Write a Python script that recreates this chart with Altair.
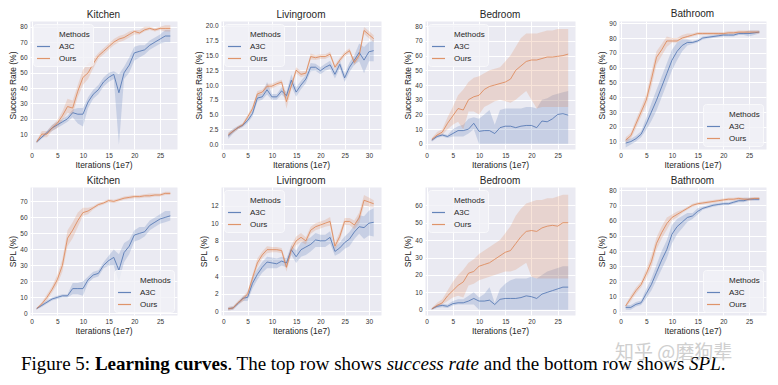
import altair as alt
import pandas as pd

X27 = list(range(1, 28))
X31 = list(range(1, 32))

# ---------------- Success rate (top row) ----------------
kit_sr_a3c = [5, 8, 11, 14, 16, 18, 20, 24, 23, 23, 31, 36, 39, 44, 47, 49, 37, 50, 55, 63, 64, 65, 68, 70, 72, 74, 74]
kit_sr_a3c_lo = [4, 7, 10, 12, 14, 16, 18, 21, 17, 15, 27, 33, 36, 41, 44, 46, 3, 46, 50, 58, 60, 62, 65, 67, 69, 70, 70]
kit_sr_a3c_hi = [6, 9, 12, 16, 18, 20, 22, 26, 27, 27, 34, 39, 42, 47, 50, 51, 49, 54, 60, 67, 68, 68, 71, 73, 75, 78, 78]
kit_sr_ours = [5, 10, 10, 14, 17, 22, 28, 27, 38, 47, 50, 56, 61, 64, 67, 70, 72, 73, 75, 77, 76, 78, 79, 78, 79, 79, 79]
kit_sr_ours_lo = [4, 8, 8, 12, 14, 19, 24, 23, 34, 42, 46, 53, 59, 62, 65, 68, 70, 71, 73, 75, 75, 77, 78, 77, 78, 77, 77]
kit_sr_ours_hi = [6, 12, 12, 16, 19, 25, 33, 32, 42, 52, 56, 59, 63, 66, 69, 72, 74, 75, 77, 78, 78, 80, 80, 79, 80, 81, 81]

liv_sr_a3c = [1.4, 2.2, 2.8, 3.2, 4.0, 5.2, 7.8, 8.0, 9.2, 8.0, 8.0, 9.0, 8.2, 10.8, 8.8, 10.0, 11.0, 13.0, 13.0, 12.4, 13.0, 13.4, 11.8, 13.5, 11.2, 13.0, 14.2, 15.5, 14.2, 15.6, 15.8]
liv_sr_a3c_lo = [0.9, 1.8, 2.5, 2.9, 3.6, 4.7, 7.2, 7.5, 8.4, 7.5, 7.5, 8.4, 7.6, 9.8, 8.0, 9.3, 10.3, 12.3, 12.4, 11.8, 12.4, 12.7, 11.1, 12.8, 10.5, 12.2, 13.4, 14.0, 12.0, 14.0, 14.0]
liv_sr_a3c_hi = [1.9, 2.6, 3.1, 3.5, 4.4, 5.7, 8.4, 8.5, 10.5, 8.5, 8.5, 9.6, 8.8, 11.8, 9.6, 10.7, 11.7, 13.7, 13.6, 13.0, 13.6, 14.1, 12.5, 14.2, 11.9, 13.8, 15.0, 17.0, 16.4, 17.2, 17.6]
liv_sr_ours = [1.6, 2.2, 2.8, 3.3, 4.6, 6.0, 8.5, 8.8, 9.8, 9.8, 10.2, 10.5, 7.2, 9.8, 12.5, 11.8, 12.0, 14.8, 14.6, 14.8, 14.8, 15.2, 13.0, 14.2, 15.2, 15.8, 13.8, 15.0, 19.2, 18.5, 17.8]
liv_sr_ours_lo = [1.2, 1.9, 2.5, 3.0, 4.2, 5.6, 8.0, 8.4, 9.4, 9.4, 9.8, 10.1, 6.0, 9.3, 12.0, 11.3, 11.6, 14.3, 14.2, 14.4, 14.4, 14.8, 12.6, 13.8, 14.8, 15.4, 13.3, 14.5, 18.6, 17.9, 17.2]
liv_sr_ours_hi = [2.0, 2.5, 3.1, 3.6, 5.0, 6.4, 9.0, 9.2, 10.2, 10.2, 10.6, 10.9, 8.4, 10.3, 13.0, 12.3, 12.4, 15.3, 15.0, 15.2, 15.2, 15.6, 13.4, 14.6, 15.6, 16.2, 14.3, 15.5, 19.8, 19.1, 18.4]

bed_sr_a3c = [2.5, 5, 6, 5, 7, 9, 9, 10, 14, 8.5, 9, 9, 7, 11, 12, 12, 11, 12, 12.5, 12.5, 11, 15.5, 15, 17, 20, 20.5, 19.5]
bed_sr_a3c_lo = [1.5, 4, 5, 4, 5, 5, 5, 7, 10, 0, 0, 0, 0, 0, 0, 0, 0, 0, 0, 0, 0, 0, 0, 0, 0, 0, 0]
bed_sr_a3c_hi = [3.5, 6, 7, 6, 10, 12, 13, 17, 18, 17, 20, 23, 13, 23, 24, 24, 24, 24, 25, 25, 24, 30, 31, 33, 34, 35, 36]
bed_sr_ours = [3, 6, 8, 14, 19, 24, 23, 30, 32, 33, 37, 39, 40, 41, 42, 44, 50, 53, 56, 57, 57, 58, 59, 59, 59.5, 60, 61]
bed_sr_ours_lo = [2, 5, 6, 10, 13, 15, 10, 22, 22, 20, 25, 27, 29, 30, 29, 28, 30, 33, 36, 30, 24, 25, 25, 25, 25, 25, 25]
bed_sr_ours_hi = [4, 8, 10, 18, 25, 33, 37, 42, 45, 46, 48, 50, 51, 52, 56, 60, 66, 72, 75, 75, 75, 76, 77, 77, 78, 78, 78]

bat_sr_a3c = [9, 10, 12, 15, 22, 30, 38, 47, 56, 65, 71, 75, 77, 77, 78, 80, 80.5, 81, 81.5, 82, 82, 82, 83, 83, 83, 83.5, 84]
bat_sr_a3c_lo = [6, 8, 10, 13, 18, 24, 31, 40, 49, 58, 65, 71, 75, 76, 77, 79, 79.5, 80, 80.5, 81, 81, 81, 82, 82, 81, 82, 83]
bat_sr_a3c_hi = [12, 12, 14, 17, 26, 36, 45, 54, 63, 72, 77, 79, 79, 78, 79, 81, 81.5, 82, 82.5, 83, 83, 83, 84, 84, 85, 85, 85]
bat_sr_ours = [11, 14, 22, 30, 38, 52, 67, 72, 78, 78, 78, 80, 81, 82, 83, 83, 83, 83, 83, 83, 83.5, 83.5, 84, 84, 84, 84, 84]
bat_sr_ours_lo = [9, 12, 19, 27, 34, 47, 62, 68, 74, 77, 77, 79, 80, 81, 82, 82, 82, 82, 82, 82, 82.5, 82.5, 83, 83, 83, 83, 83]
bat_sr_ours_hi = [13, 16, 25, 33, 42, 57, 71, 76, 81, 80, 80, 82, 83, 83, 84, 84, 84, 84, 84, 84, 84.5, 84.5, 85, 85, 85, 85, 85]

# ---------------- SPL (bottom row) ----------------
kit_spl_a3c = [3, 5, 7, 9, 10, 11, 11, 15.5, 15.5, 15.5, 21, 24, 25, 30, 33, 35, 27, 38, 42, 49, 50, 51, 55, 57, 59, 60, 61]
kit_spl_a3c_lo = [2.5, 4, 6, 8, 9, 10, 10, 12, 12, 11, 19, 22, 23, 28, 30, 30, 20, 32, 37, 45, 46, 48, 52, 54, 56, 57, 58]
kit_spl_a3c_hi = [3.5, 6, 8, 10, 11, 12, 12, 19, 19, 20, 23, 26, 27, 32, 36, 40, 37, 44, 46, 52, 54, 54, 58, 60, 62, 64, 64]
kit_spl_ours = [3, 6, 10, 15, 21, 30, 47, 52, 58, 63, 64, 66, 68, 69, 70.5, 70, 71, 72, 72.5, 73, 73, 73.5, 73.5, 74, 74, 75, 75]
kit_spl_ours_lo = [2.5, 5, 8, 13, 18, 26, 42, 47, 54, 61, 62, 65, 67, 68, 69.5, 69, 70, 71, 71.5, 72, 72, 72.5, 72.5, 73, 73, 74, 74]
kit_spl_ours_hi = [3.5, 7, 12, 17, 24, 34, 52, 57, 63, 66, 66, 67, 69, 70, 71.5, 71, 72, 73, 73.5, 74, 74, 74.5, 75, 75, 75, 76, 76]

liv_spl_a3c = [0.3, 0.4, 0.9, 1.5, 1.6, 3.2, 4.2, 5.0, 5.6, 5.5, 5.4, 5.7, 5.5, 7.0, 6.2, 7.0, 7.3, 7.6, 8.1, 8.0, 8.0, 8.4, 6.8, 7.2, 7.8, 8.2, 9.0, 9.6, 9.5, 10.0, 10.1]
liv_spl_a3c_lo = [0.1, 0.2, 0.7, 1.2, 1.2, 2.6, 3.6, 4.4, 4.9, 4.9, 4.9, 5.2, 5.0, 6.4, 5.5, 6.2, 6.4, 6.8, 7.3, 7.3, 7.3, 7.7, 6.3, 6.6, 7.1, 7.4, 8.2, 8.8, 8.2, 8.6, 8.5]
liv_spl_a3c_hi = [0.5, 0.6, 1.1, 1.7, 2.0, 3.8, 4.8, 5.6, 6.2, 6.1, 6.0, 6.2, 6.0, 7.5, 6.9, 7.8, 8.1, 8.4, 8.9, 8.7, 8.7, 9.1, 7.3, 7.8, 8.5, 9.0, 9.8, 10.9, 10.8, 11.4, 11.7]
liv_spl_ours = [0.3, 0.4, 1.0, 1.4, 2.0, 3.8, 5.5, 6.4, 7.0, 7.0, 7.0, 6.9, 5.0, 7.0, 8.0, 8.4, 8.0, 9.2, 9.6, 9.8, 10.0, 10.2, 7.4, 8.5, 10.2, 10.2, 9.8, 10.6, 12.6, 12.4, 12.2]
liv_spl_ours_lo = [0.1, 0.2, 0.8, 1.1, 1.7, 3.4, 5.0, 6.0, 6.6, 6.7, 6.7, 6.6, 4.5, 6.5, 7.5, 7.9, 7.6, 8.8, 9.2, 9.4, 9.6, 9.7, 7.0, 8.0, 9.8, 9.8, 9.3, 10.0, 12.0, 11.9, 11.8]
liv_spl_ours_hi = [0.5, 0.6, 1.2, 1.7, 2.3, 4.2, 6.0, 6.8, 7.4, 7.3, 7.3, 7.2, 5.5, 7.5, 8.5, 8.9, 8.4, 9.6, 10.0, 10.2, 10.4, 10.7, 7.8, 9.0, 10.6, 10.6, 10.3, 11.2, 13.2, 12.9, 12.6]

bed_spl_a3c = [0.5, 2, 2.5, 2, 3.5, 4, 4, 5, 6.5, 5, 5, 5.5, 3, 6, 6.5, 6.5, 6.5, 7, 8, 7.5, 6.5, 9, 10, 11, 12, 13, 13]
bed_spl_a3c_lo = [0, 1, 1.5, 1, 2.5, 3, 3, 3, 3, 0, 0, 0, 0, 0, 0, 0, 0, 0, 0, 0, 0, 0, 0, 0, 0, 0, 0]
bed_spl_a3c_hi = [1, 3, 3.5, 3, 5, 6, 6, 8, 10, 7, 9, 13, 4, 12, 15, 17, 18, 18, 18, 19, 18, 20, 22, 23, 24, 25, 25]
bed_spl_ours = [0.5, 2.5, 4, 8, 11, 14, 16, 21, 22, 25, 26, 27, 29, 31, 33, 34, 38, 42, 45, 45.5, 45, 47, 48, 48.5, 48, 50, 50]
bed_spl_ours_lo = [0, 1.5, 3, 5, 7, 8, 7, 14, 15, 17, 18, 19, 20, 21, 22, 22, 23, 25, 27, 19, 18, 18, 18, 18, 18, 18, 18]
bed_spl_ours_hi = [1, 4, 6, 11, 16, 20, 23, 27, 29, 32, 34, 36, 38, 40, 44, 48, 54, 58, 61, 62, 63, 63, 64, 64, 65, 66, 66]

bat_spl_a3c = [3, 3, 5, 6, 12, 18, 26, 34, 41, 51, 56, 59, 62, 63, 66, 68, 69, 70, 70.5, 71, 71, 72, 73, 73, 74, 74, 74]
bat_spl_a3c_lo = [1.5, 1.5, 3.5, 4.5, 9, 14, 21, 28, 35, 45, 51, 55, 59, 61, 64, 67, 68, 69, 69.5, 70, 70, 71, 72, 72, 73, 73, 73]
bat_spl_a3c_hi = [4.5, 4.5, 6.5, 7.5, 15, 22, 31, 40, 47, 57, 61, 63, 65, 65, 68, 69, 70, 71, 71.5, 72, 72, 73, 74, 75, 75, 75, 75]
bat_spl_ours = [4, 9, 14, 18, 25, 33, 45, 52, 58, 62, 64, 66, 68, 70, 71, 71.5, 72, 72.5, 73, 73.5, 74, 74, 74.5, 74, 74, 74.5, 74.5]
bat_spl_ours_lo = [3, 7, 12, 16, 22, 29, 41, 48, 54, 60, 62, 65, 67, 69, 70, 70.5, 71, 71.5, 72, 72.5, 73, 73, 73.5, 73, 73, 73.5, 73.5]
bat_spl_ours_hi = [5, 11, 16, 20, 28, 37, 49, 56, 62, 64, 66, 67, 69, 71, 72, 72.5, 73, 73.5, 74, 74.5, 75, 75, 75.5, 75, 75, 75.5, 75.5]

# legend: seaborn-style "Methods" header row followed by the two methods
LEGEND_ENTRIES = ["Methods", "A3C", "Ours"]
LEGEND_COLORS = ["rgba(0,0,0,0)", "#4C72B0", "#DD8452"]
METHODS = ["A3C", "Ours"]
FONT = "Liberation Sans"
SERIF = "Liberation Serif"

CAPTION = [
    ("Figure 5:", "normal", "normal"),
    ("Learning curves", "bold", "normal"),
    (". The top row shows", "normal", "normal"),
    ("success rate", "normal", "italic"),
    ("and the bottom row shows", "normal", "normal"),
    ("SPL", "normal", "italic"),
    (".", "normal", "normal"),
]
CAPTION_OFFSETS = [0, 73.9, 206.4, 365.7, 462.8, 668.1, 699.8]
WATERMARK = "知乎 @磨狗辈"

PH = 128


def panel(title, ylab, x, series, xdom, xticks, ydom, yticks, yfmt, orient, width):
    rows = []
    for name, (m, lo, hi) in zip(METHODS, series):
        for i, xv in enumerate(x):
            rows.append({"x": xv, "m": m[i], "lo": lo[i], "hi": hi[i], "method": name})
    df = pd.DataFrame(rows)
    xs = alt.Scale(domain=xdom, nice=False, zero=False)
    ys = alt.Scale(domain=ydom, nice=False, zero=False)
    cs = alt.Scale(domain=LEGEND_ENTRIES, range=LEGEND_COLORS)
    xax = alt.Axis(values=xticks, title="Iterations (1e7)", format="d")
    yax = alt.Axis(values=yticks, title=ylab, format=yfmt)
    legend = alt.Legend(
        title=None,
        orient=orient,
        offset=3,
        padding=3,
        fillColor="rgba(241,241,246,0.8)",
        strokeColor="rgba(250,250,252,0.9)",
        cornerRadius=3,
        symbolType="stroke",
        symbolSize=169,
        symbolStrokeWidth=1.2,
        symbolOpacity=0.85,
        labelFont=FONT,
        labelFontSize=8,
        labelColor="#262626",
        labelOffset=8,
        rowPadding=0,
    )
    base = alt.Chart(df)
    band = base.mark_area(opacity=0.22, clip=True).encode(
        x=alt.X("x:Q", scale=xs, axis=xax),
        y=alt.Y("lo:Q", scale=ys, axis=yax),
        y2="hi:Q",
        color=alt.Color("method:N", scale=cs, legend=legend),
    )
    line = base.mark_line(strokeWidth=1, opacity=0.8, clip=True).encode(
        x=alt.X("x:Q", scale=xs, axis=xax),
        y=alt.Y("m:Q", scale=ys, axis=yax),
        color=alt.Color("method:N", scale=cs, legend=legend),
    )
    return alt.layer(band, line).properties(
        width=width,
        height=PH,
        title=alt.TitleParams(title, fontSize=10, fontWeight="normal", font=FONT, color="#262626", offset=1),
    )


xt27 = [0, 5, 10, 15, 20, 25]
xt31 = [0, 5, 10, 15, 20, 25, 30]
dom27 = [-0.3, 28.3]
dom31 = [-0.5, 32.5]

p1 = panel("Kitchen", "Success Rate (%)", X27,
           [(kit_sr_a3c, kit_sr_a3c_lo, kit_sr_a3c_hi), (kit_sr_ours, kit_sr_ours_lo, kit_sr_ours_hi)],
           dom27, xt27, [0.3, 83.8], [10, 20, 30, 40, 50, 60, 70, 80], "d", "top-left", 147)
p2 = panel("Livingroom", "Success Rate (%)", X31,
           [(liv_sr_a3c, liv_sr_a3c_lo, liv_sr_a3c_hi), (liv_sr_ours, liv_sr_ours_lo, liv_sr_ours_hi)],
           dom31, xt31, [-0.8, 20.8], [0, 2.5, 5, 7.5, 10, 12.5, 15, 17.5, 20], ".1f", "top-left", 160)
p3 = panel("Bedroom", "Success Rate (%)", X27,
           [(bed_sr_a3c, bed_sr_a3c_lo, bed_sr_a3c_hi), (bed_sr_ours, bed_sr_ours_lo, bed_sr_ours_hi)],
           dom27, xt27, [-3.5, 83.5], [0, 10, 20, 30, 40, 50, 60, 70, 80], "d", "top-left", 150)
p4 = panel("Bathroom", "Success Rate (%)", X27,
           [(bat_sr_a3c, bat_sr_a3c_lo, bat_sr_a3c_hi), (bat_sr_ours, bat_sr_ours_lo, bat_sr_ours_hi)],
           dom27, xt27, [5, 91.5], [10, 20, 30, 40, 50, 60, 70, 80, 90], "d", "bottom-right", 147)

q1 = panel("Kitchen", "SPL (%)", X27,
           [(kit_spl_a3c, kit_spl_a3c_lo, kit_spl_a3c_hi), (kit_spl_ours, kit_spl_ours_lo, kit_spl_ours_hi)],
           dom27, xt27, [-1, 79], [0, 10, 20, 30, 40, 50, 60, 70], "d", "bottom-right", 147)
q2 = panel("Livingroom", "SPL (%)", X31,
           [(liv_spl_a3c, liv_spl_a3c_lo, liv_spl_a3c_hi), (liv_spl_ours, liv_spl_ours_lo, liv_spl_ours_hi)],
           dom31, xt31, [-0.4, 14.1], [0, 2, 4, 6, 8, 10, 12], "d", "top-left", 160)
q3 = panel("Bedroom", "SPL (%)", X27,
           [(bed_spl_a3c, bed_spl_a3c_lo, bed_spl_a3c_hi), (bed_spl_ours, bed_spl_ours_lo, bed_spl_ours_hi)],
           dom27, xt27, [-3, 70.5], [0, 10, 20, 30, 40, 50, 60], "d", "top-left", 150)
q4 = panel("Bathroom", "SPL (%)", X27,
           [(bat_spl_a3c, bat_spl_a3c_lo, bat_spl_a3c_hi), (bat_spl_ours, bat_spl_ours_lo, bat_spl_ours_hi)],
           dom27, xt27, [-2, 82], [0, 10, 20, 30, 40, 50, 60, 70, 80], "d", "bottom-right", 147)

CAP_X0 = -9
cap_layers = []
for (txt, weight, style), off in zip(CAPTION, CAPTION_OFFSETS):
    cap_layers.append(
        alt.Chart(pd.DataFrame({"t": [txt]})).mark_text(
            align="left", baseline="alphabetic", font=SERIF, fontSize=19,
            fontWeight=weight, fontStyle=style, color="black",
        ).encode(x=alt.value(CAP_X0 + off), y=alt.value(17), text="t:N")
    )
cap_layers.append(
    alt.Chart(pd.DataFrame({"t": [WATERMARK]})).mark_text(
        align="left", baseline="alphabetic", font="Noto Sans CJK SC", fontSize=19,
        color="#C4C4C4", opacity=0.8,
    ).encode(x=alt.value(585), y=alt.value(6), text="t:N")
)
caption = alt.layer(*cap_layers).properties(
    width=100, height=18, view=alt.ViewBackground(fill="transparent", stroke="transparent"))

chart = alt.concat(
    p1, p2, p3, p4, q1, q2, q3, q4, caption,
    columns=4, spacing={"row": 38, "column": 44}, bounds="flush", align="each",
).resolve_scale(color="independent").resolve_legend(color="independent").properties(
    padding={"left": 0, "top": 0, "right": 0, "bottom": 0}
).configure_view(
    stroke="transparent", fill="#EAEAF2"
).configure_axis(
    domain=False, ticks=False, grid=True, gridColor="white", gridWidth=1,
    labelFont=FONT, labelFontSize=6.5, labelColor="#333333", labelPadding=3,
    titleFont=FONT, titleFontSize=8.5, titleFontWeight="normal", titleColor="#262626", titlePadding=2,
)

chart.save("out.html", embed_options={"renderer": "svg", "actions": False})
